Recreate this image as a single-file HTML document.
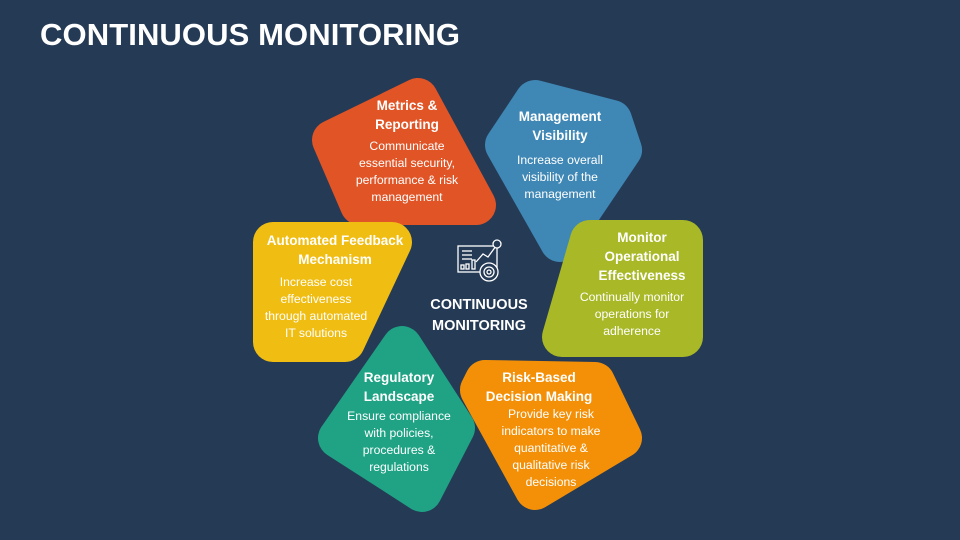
<!DOCTYPE html>
<html><head><meta charset="utf-8"><style>
html,body{margin:0;padding:0;width:960px;height:540px;overflow:hidden;background:#253a55}
svg{display:block}
text{font-family:"Liberation Sans",sans-serif;fill:#fff}
.h{font-weight:bold;font-size:13.5px}
.b{font-size:12.2px}
</style></head><body>
<svg width="960" height="540" viewBox="0 0 960 540">
<rect width="960" height="540" fill="#253a55"/>
<text x="40" y="45" style="font-weight:bold;font-size:31px" textLength="420">CONTINUOUS MONITORING</text>
<g stroke-linejoin="round" stroke-width="40">
<polygon points="418,98 476,205 360,205 332,140" fill="#e05426" stroke="#e05426"/>
<polygon points="535,100 612,120 622,150 560,242 505,145" fill="#3f87b5" stroke="#3f87b5"/>
<polygon points="590,240 683,240 683,337 562,337" fill="#a8b826" stroke="#a8b826"/>
<polygon points="273,242 392,242 345,342 273,342" fill="#f0bd13" stroke="#f0bd13"/>
<polygon points="402,346 455,428 422,492 338,438" fill="#1fa384" stroke="#1fa384"/>
<polygon points="485,380 595,382 622,438 535,490 480,390" fill="#f39008" stroke="#f39008"/>
</g>
<g text-anchor="middle">
<text class="h" x="407" y="110">Metrics &amp;</text>
<text class="h" x="407" y="129">Reporting</text>
<text class="b" x="407" y="150">Communicate</text>
<text class="b" x="407" y="167">essential security,</text>
<text class="b" x="407" y="184">performance &amp; risk</text>
<text class="b" x="407" y="201">management</text>

<text class="h" x="560" y="121">Management</text>
<text class="h" x="560" y="140">Visibility</text>
<text class="b" x="560" y="164">Increase overall</text>
<text class="b" x="560" y="181">visibility of the</text>
<text class="b" x="560" y="198">management</text>

<text class="h" x="642" y="242">Monitor</text>
<text class="h" x="642" y="261">Operational</text>
<text class="h" x="642" y="280">Effectiveness</text>
<text class="b" x="632" y="301">Continually monitor</text>
<text class="b" x="632" y="318">operations for</text>
<text class="b" x="632" y="335">adherence</text>

<text class="h" x="335" y="245">Automated Feedback</text>
<text class="h" x="335" y="264">Mechanism</text>
<text class="b" x="316" y="286">Increase cost</text>
<text class="b" x="316" y="303">effectiveness</text>
<text class="b" x="316" y="320">through automated</text>
<text class="b" x="316" y="337">IT solutions</text>

<text class="h" x="399" y="382">Regulatory</text>
<text class="h" x="399" y="401">Landscape</text>
<text class="b" x="399" y="420">Ensure compliance</text>
<text class="b" x="399" y="437">with policies,</text>
<text class="b" x="399" y="454">procedures &amp;</text>
<text class="b" x="399" y="471">regulations</text>

<text class="h" x="539" y="382">Risk-Based</text>
<text class="h" x="539" y="401">Decision Making</text>
<text class="b" x="551" y="418">Provide key risk</text>
<text class="b" x="551" y="435">indicators to make</text>
<text class="b" x="551" y="452">quantitative &amp;</text>
<text class="b" x="551" y="469">qualitative risk</text>
<text class="b" x="551" y="486">decisions</text>

<text class="h" x="479" y="309" style="font-size:14.5px">CONTINUOUS</text>
<text class="h" x="479" y="330" style="font-size:14.5px">MONITORING</text>
</g>
<g fill="none" stroke="#fff" stroke-width="1.3">
<rect x="458" y="246" width="39" height="26"/>
<line x1="462" y1="251" x2="472" y2="251"/><line x1="462" y1="255" x2="472" y2="255"/><line x1="462" y1="259" x2="472" y2="259"/>
<polyline points="476,262 483,254 488,257 496,246"/>
<circle cx="497" cy="244" r="4" fill="#253a55"/>
<rect x="461" y="265" width="3" height="4"/><rect x="466" y="264" width="3" height="5"/><rect x="472" y="260" width="3" height="9"/>
<circle cx="489" cy="272" r="9" fill="#253a55"/>
<circle cx="489" cy="272" r="5"/><circle cx="489" cy="272" r="2"/>
</g>
</svg>
</body></html>
